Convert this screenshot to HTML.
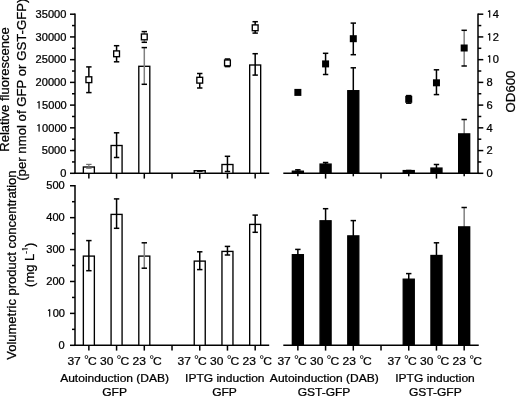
<!DOCTYPE html>
<html><head><meta charset="utf-8"><title>Figure</title>
<style>
html,body{margin:0;padding:0;background:#fff;}
body{width:516px;height:397px;overflow:hidden;}
svg{display:block;}
text{font-family:"Liberation Sans", Arial, Helvetica, sans-serif;fill:#000;stroke:#000;stroke-width:0.25px;}
</style></head><body>
<svg width="516" height="397" viewBox="0 0 516 397">
<rect x="0" y="0" width="516" height="397" fill="#fff"/>
<line x1="75.00" y1="13.45" x2="75.00" y2="173.30" stroke="#000" stroke-width="1.5"/>
<line x1="75.00" y1="185.00" x2="75.00" y2="345.30" stroke="#000" stroke-width="1.5"/>
<line x1="478.00" y1="13.45" x2="478.00" y2="174.05" stroke="#000" stroke-width="1.5"/>
<line x1="74.25" y1="173.30" x2="269.20" y2="173.30" stroke="#000" stroke-width="1.5"/>
<line x1="283.30" y1="173.30" x2="478.75" y2="173.30" stroke="#000" stroke-width="1.5"/>
<line x1="74.25" y1="345.30" x2="269.20" y2="345.30" stroke="#000" stroke-width="1.5"/>
<line x1="283.30" y1="345.30" x2="478.75" y2="345.30" stroke="#000" stroke-width="1.5"/>
<line x1="70.00" y1="173.30" x2="75.00" y2="173.30" stroke="#000" stroke-width="1.5"/>
<line x1="72.00" y1="161.94" x2="75.00" y2="161.94" stroke="#000" stroke-width="1.5"/>
<line x1="70.00" y1="150.57" x2="75.00" y2="150.57" stroke="#000" stroke-width="1.5"/>
<line x1="72.00" y1="139.21" x2="75.00" y2="139.21" stroke="#000" stroke-width="1.5"/>
<line x1="70.00" y1="127.84" x2="75.00" y2="127.84" stroke="#000" stroke-width="1.5"/>
<line x1="72.00" y1="116.48" x2="75.00" y2="116.48" stroke="#000" stroke-width="1.5"/>
<line x1="70.00" y1="105.11" x2="75.00" y2="105.11" stroke="#000" stroke-width="1.5"/>
<line x1="72.00" y1="93.75" x2="75.00" y2="93.75" stroke="#000" stroke-width="1.5"/>
<line x1="70.00" y1="82.39" x2="75.00" y2="82.39" stroke="#000" stroke-width="1.5"/>
<line x1="72.00" y1="71.02" x2="75.00" y2="71.02" stroke="#000" stroke-width="1.5"/>
<line x1="70.00" y1="59.66" x2="75.00" y2="59.66" stroke="#000" stroke-width="1.5"/>
<line x1="72.00" y1="48.29" x2="75.00" y2="48.29" stroke="#000" stroke-width="1.5"/>
<line x1="70.00" y1="36.93" x2="75.00" y2="36.93" stroke="#000" stroke-width="1.5"/>
<line x1="72.00" y1="25.56" x2="75.00" y2="25.56" stroke="#000" stroke-width="1.5"/>
<line x1="70.00" y1="14.20" x2="75.00" y2="14.20" stroke="#000" stroke-width="1.5"/>
<line x1="70.00" y1="345.30" x2="75.00" y2="345.30" stroke="#000" stroke-width="1.5"/>
<line x1="72.00" y1="329.35" x2="75.00" y2="329.35" stroke="#000" stroke-width="1.5"/>
<line x1="70.00" y1="313.39" x2="75.00" y2="313.39" stroke="#000" stroke-width="1.5"/>
<line x1="72.00" y1="297.44" x2="75.00" y2="297.44" stroke="#000" stroke-width="1.5"/>
<line x1="70.00" y1="281.48" x2="75.00" y2="281.48" stroke="#000" stroke-width="1.5"/>
<line x1="72.00" y1="265.52" x2="75.00" y2="265.52" stroke="#000" stroke-width="1.5"/>
<line x1="70.00" y1="249.57" x2="75.00" y2="249.57" stroke="#000" stroke-width="1.5"/>
<line x1="72.00" y1="233.62" x2="75.00" y2="233.62" stroke="#000" stroke-width="1.5"/>
<line x1="70.00" y1="217.66" x2="75.00" y2="217.66" stroke="#000" stroke-width="1.5"/>
<line x1="72.00" y1="201.71" x2="75.00" y2="201.71" stroke="#000" stroke-width="1.5"/>
<line x1="70.00" y1="185.75" x2="75.00" y2="185.75" stroke="#000" stroke-width="1.5"/>
<line x1="478.00" y1="173.30" x2="483.30" y2="173.30" stroke="#000" stroke-width="1.5"/>
<line x1="478.00" y1="161.94" x2="481.30" y2="161.94" stroke="#000" stroke-width="1.5"/>
<line x1="478.00" y1="150.57" x2="483.30" y2="150.57" stroke="#000" stroke-width="1.5"/>
<line x1="478.00" y1="139.21" x2="481.30" y2="139.21" stroke="#000" stroke-width="1.5"/>
<line x1="478.00" y1="127.84" x2="483.30" y2="127.84" stroke="#000" stroke-width="1.5"/>
<line x1="478.00" y1="116.48" x2="481.30" y2="116.48" stroke="#000" stroke-width="1.5"/>
<line x1="478.00" y1="105.11" x2="483.30" y2="105.11" stroke="#000" stroke-width="1.5"/>
<line x1="478.00" y1="93.75" x2="481.30" y2="93.75" stroke="#000" stroke-width="1.5"/>
<line x1="478.00" y1="82.39" x2="483.30" y2="82.39" stroke="#000" stroke-width="1.5"/>
<line x1="478.00" y1="71.02" x2="481.30" y2="71.02" stroke="#000" stroke-width="1.5"/>
<line x1="478.00" y1="59.66" x2="483.30" y2="59.66" stroke="#000" stroke-width="1.5"/>
<line x1="478.00" y1="48.29" x2="481.30" y2="48.29" stroke="#000" stroke-width="1.5"/>
<line x1="478.00" y1="36.93" x2="483.30" y2="36.93" stroke="#000" stroke-width="1.5"/>
<line x1="478.00" y1="25.56" x2="481.30" y2="25.56" stroke="#000" stroke-width="1.5"/>
<line x1="478.00" y1="14.20" x2="483.30" y2="14.20" stroke="#000" stroke-width="1.5"/>
<line x1="88.86" y1="173.30" x2="88.86" y2="178.60" stroke="#000" stroke-width="1.5"/>
<line x1="116.58" y1="173.30" x2="116.58" y2="178.60" stroke="#000" stroke-width="1.5"/>
<line x1="144.30" y1="173.30" x2="144.30" y2="178.60" stroke="#000" stroke-width="1.5"/>
<line x1="172.02" y1="173.30" x2="172.02" y2="178.60" stroke="#000" stroke-width="1.5"/>
<line x1="199.74" y1="173.30" x2="199.74" y2="178.60" stroke="#000" stroke-width="1.5"/>
<line x1="227.46" y1="173.30" x2="227.46" y2="178.60" stroke="#000" stroke-width="1.5"/>
<line x1="255.18" y1="173.30" x2="255.18" y2="178.60" stroke="#000" stroke-width="1.5"/>
<line x1="297.86" y1="173.30" x2="297.86" y2="176.30" stroke="#000" stroke-width="1.5"/>
<line x1="325.58" y1="173.30" x2="325.58" y2="178.60" stroke="#000" stroke-width="1.5"/>
<line x1="353.30" y1="173.30" x2="353.30" y2="176.30" stroke="#000" stroke-width="1.5"/>
<line x1="381.02" y1="173.30" x2="381.02" y2="178.60" stroke="#000" stroke-width="1.5"/>
<line x1="408.74" y1="173.30" x2="408.74" y2="176.30" stroke="#000" stroke-width="1.5"/>
<line x1="436.46" y1="173.30" x2="436.46" y2="178.60" stroke="#000" stroke-width="1.5"/>
<line x1="464.18" y1="173.30" x2="464.18" y2="176.30" stroke="#000" stroke-width="1.5"/>
<line x1="88.86" y1="345.30" x2="88.86" y2="350.60" stroke="#000" stroke-width="1.5"/>
<line x1="116.58" y1="345.30" x2="116.58" y2="350.60" stroke="#000" stroke-width="1.5"/>
<line x1="144.30" y1="345.30" x2="144.30" y2="350.60" stroke="#000" stroke-width="1.5"/>
<line x1="172.02" y1="345.30" x2="172.02" y2="350.60" stroke="#000" stroke-width="1.5"/>
<line x1="199.74" y1="345.30" x2="199.74" y2="350.60" stroke="#000" stroke-width="1.5"/>
<line x1="227.46" y1="345.30" x2="227.46" y2="350.60" stroke="#000" stroke-width="1.5"/>
<line x1="255.18" y1="345.30" x2="255.18" y2="350.60" stroke="#000" stroke-width="1.5"/>
<line x1="297.86" y1="345.30" x2="297.86" y2="350.60" stroke="#000" stroke-width="1.5"/>
<line x1="325.58" y1="345.30" x2="325.58" y2="350.60" stroke="#000" stroke-width="1.5"/>
<line x1="353.30" y1="345.30" x2="353.30" y2="350.60" stroke="#000" stroke-width="1.5"/>
<line x1="381.02" y1="345.30" x2="381.02" y2="350.60" stroke="#000" stroke-width="1.5"/>
<line x1="408.74" y1="345.30" x2="408.74" y2="350.60" stroke="#000" stroke-width="1.5"/>
<line x1="436.46" y1="345.30" x2="436.46" y2="350.60" stroke="#000" stroke-width="1.5"/>
<line x1="464.18" y1="345.30" x2="464.18" y2="350.60" stroke="#000" stroke-width="1.5"/>
<text transform="translate(66.40,177.00) scale(1.065,1)" font-size="10.4" text-anchor="end" >0</text>
<text transform="translate(66.40,154.27) scale(1.065,1)" font-size="10.4" text-anchor="end" >5000</text>
<text transform="translate(66.40,131.54) scale(1.065,1)" font-size="10.4" text-anchor="end" ><tspan font-family="IPAGothic" font-size="10.23" dx="0.30" dy="0.00">1</tspan><tspan dx="0.36" dy="-0.00">0</tspan>000</text>
<text transform="translate(66.40,108.81) scale(1.065,1)" font-size="10.4" text-anchor="end" ><tspan font-family="IPAGothic" font-size="10.23" dx="0.30" dy="0.00">1</tspan><tspan dx="0.36" dy="-0.00">5</tspan>000</text>
<text transform="translate(66.40,86.09) scale(1.065,1)" font-size="10.4" text-anchor="end" >20000</text>
<text transform="translate(66.40,63.36) scale(1.065,1)" font-size="10.4" text-anchor="end" >25000</text>
<text transform="translate(66.40,40.63) scale(1.065,1)" font-size="10.4" text-anchor="end" >30000</text>
<text transform="translate(66.40,17.90) scale(1.065,1)" font-size="10.4" text-anchor="end" >35000</text>
<text transform="translate(64.70,349.00) scale(1.065,1)" font-size="10.4" text-anchor="end" >0</text>
<text transform="translate(64.70,317.09) scale(1.065,1)" font-size="10.4" text-anchor="end" ><tspan font-family="IPAGothic" font-size="10.23" dx="0.30" dy="0.00">1</tspan><tspan dx="0.36" dy="-0.00">0</tspan>0</text>
<text transform="translate(64.70,285.18) scale(1.065,1)" font-size="10.4" text-anchor="end" >200</text>
<text transform="translate(64.70,253.27) scale(1.065,1)" font-size="10.4" text-anchor="end" >300</text>
<text transform="translate(64.70,221.36) scale(1.065,1)" font-size="10.4" text-anchor="end" >400</text>
<text transform="translate(64.70,189.45) scale(1.065,1)" font-size="10.4" text-anchor="end" >500</text>
<text transform="translate(486.50,177.00) scale(1.065,1)" font-size="10.4" text-anchor="start" >0</text>
<text transform="translate(486.50,154.27) scale(1.065,1)" font-size="10.4" text-anchor="start" >2</text>
<text transform="translate(486.50,131.54) scale(1.065,1)" font-size="10.4" text-anchor="start" >4</text>
<text transform="translate(486.50,108.81) scale(1.065,1)" font-size="10.4" text-anchor="start" >6</text>
<text transform="translate(486.50,86.09) scale(1.065,1)" font-size="10.4" text-anchor="start" >8</text>
<text transform="translate(486.50,63.36) scale(1.065,1)" font-size="10.4" text-anchor="start" ><tspan font-family="IPAGothic" font-size="10.23" dx="0.30" dy="0.00">1</tspan><tspan dx="0.36" dy="-0.00">0</tspan></text>
<text transform="translate(486.50,40.63) scale(1.065,1)" font-size="10.4" text-anchor="start" ><tspan font-family="IPAGothic" font-size="10.23" dx="0.30" dy="0.00">1</tspan><tspan dx="0.36" dy="-0.00">2</tspan></text>
<text transform="translate(486.50,17.90) scale(1.065,1)" font-size="10.4" text-anchor="start" ><tspan font-family="IPAGothic" font-size="10.23" dx="0.30" dy="0.00">1</tspan><tspan dx="0.36" dy="-0.00">4</tspan></text>
<rect x="83.36" y="167.00" width="11.00" height="6.30" fill="#fff" stroke="#000" stroke-width="1.35"/>
<line x1="88.86" y1="164.40" x2="88.86" y2="168.20" stroke="#707070" stroke-width="1.2"/>
<line x1="86.16" y1="164.40" x2="91.56" y2="164.40" stroke="#707070" stroke-width="1.2"/>
<line x1="86.16" y1="168.20" x2="91.56" y2="168.20" stroke="#707070" stroke-width="1.2"/>
<rect x="111.08" y="145.50" width="11.00" height="27.80" fill="#fff" stroke="#000" stroke-width="1.35"/>
<line x1="116.58" y1="132.80" x2="116.58" y2="157.50" stroke="#000" stroke-width="1.5"/>
<line x1="113.88" y1="132.80" x2="119.28" y2="132.80" stroke="#000" stroke-width="1.5"/>
<line x1="113.88" y1="157.50" x2="119.28" y2="157.50" stroke="#000" stroke-width="1.5"/>
<rect x="138.80" y="66.30" width="11.00" height="107.00" fill="#fff" stroke="#000" stroke-width="1.35"/>
<line x1="144.30" y1="47.60" x2="144.30" y2="84.30" stroke="#808080" stroke-width="1.5"/>
<line x1="141.60" y1="47.60" x2="147.00" y2="47.60" stroke="#000" stroke-width="1.5"/>
<line x1="141.60" y1="84.30" x2="147.00" y2="84.30" stroke="#000" stroke-width="1.5"/>
<rect x="194.24" y="170.70" width="11.00" height="2.60" fill="#fff" stroke="#000" stroke-width="1.35"/>
<line x1="199.74" y1="170.95" x2="199.74" y2="170.95" stroke="#000" stroke-width="1.5"/>
<line x1="197.04" y1="170.95" x2="202.44" y2="170.95" stroke="#000" stroke-width="1.5"/>
<line x1="197.04" y1="170.95" x2="202.44" y2="170.95" stroke="#000" stroke-width="1.5"/>
<rect x="221.96" y="164.50" width="11.00" height="8.80" fill="#fff" stroke="#000" stroke-width="1.35"/>
<line x1="227.46" y1="156.30" x2="227.46" y2="171.50" stroke="#000" stroke-width="1.5"/>
<line x1="224.76" y1="156.30" x2="230.16" y2="156.30" stroke="#000" stroke-width="1.5"/>
<line x1="224.76" y1="171.50" x2="230.16" y2="171.50" stroke="#000" stroke-width="1.5"/>
<rect x="249.68" y="65.00" width="11.00" height="108.30" fill="#fff" stroke="#000" stroke-width="1.35"/>
<line x1="255.18" y1="53.70" x2="255.18" y2="75.10" stroke="#000" stroke-width="1.5"/>
<line x1="252.48" y1="53.70" x2="257.88" y2="53.70" stroke="#000" stroke-width="1.5"/>
<line x1="252.48" y1="75.10" x2="257.88" y2="75.10" stroke="#000" stroke-width="1.5"/>
<line x1="297.86" y1="169.80" x2="297.86" y2="171.40" stroke="#000" stroke-width="1.5"/>
<line x1="295.16" y1="169.80" x2="300.56" y2="169.80" stroke="#000" stroke-width="1.5"/>
<line x1="295.16" y1="171.40" x2="300.56" y2="171.40" stroke="#000" stroke-width="1.5"/>
<rect x="292.36" y="171.20" width="11.00" height="2.10" fill="#000" stroke="#000" stroke-width="1.35"/>
<line x1="325.58" y1="162.50" x2="325.58" y2="164.50" stroke="#000" stroke-width="1.5"/>
<line x1="322.88" y1="162.50" x2="328.28" y2="162.50" stroke="#000" stroke-width="1.5"/>
<line x1="322.88" y1="164.50" x2="328.28" y2="164.50" stroke="#000" stroke-width="1.5"/>
<rect x="320.08" y="164.10" width="11.00" height="9.20" fill="#000" stroke="#000" stroke-width="1.35"/>
<line x1="353.30" y1="67.80" x2="353.30" y2="112.40" stroke="#000" stroke-width="1.5"/>
<line x1="350.60" y1="67.80" x2="356.00" y2="67.80" stroke="#000" stroke-width="1.5"/>
<line x1="350.60" y1="112.40" x2="356.00" y2="112.40" stroke="#000" stroke-width="1.5"/>
<rect x="347.80" y="90.70" width="11.00" height="82.60" fill="#000" stroke="#000" stroke-width="1.35"/>
<line x1="408.74" y1="170.60" x2="408.74" y2="170.60" stroke="#000" stroke-width="1.5"/>
<line x1="406.04" y1="170.60" x2="411.44" y2="170.60" stroke="#000" stroke-width="1.5"/>
<line x1="406.04" y1="170.60" x2="411.44" y2="170.60" stroke="#000" stroke-width="1.5"/>
<rect x="403.24" y="170.60" width="11.00" height="2.70" fill="#000" stroke="#000" stroke-width="1.35"/>
<line x1="436.46" y1="164.50" x2="436.46" y2="170.50" stroke="#000" stroke-width="1.5"/>
<line x1="433.76" y1="164.50" x2="439.16" y2="164.50" stroke="#000" stroke-width="1.5"/>
<line x1="433.76" y1="170.50" x2="439.16" y2="170.50" stroke="#000" stroke-width="1.5"/>
<rect x="430.96" y="168.10" width="11.00" height="5.20" fill="#000" stroke="#000" stroke-width="1.35"/>
<line x1="464.18" y1="119.50" x2="464.18" y2="147.10" stroke="#808080" stroke-width="1.5"/>
<line x1="461.48" y1="119.50" x2="466.88" y2="119.50" stroke="#000" stroke-width="1.5"/>
<line x1="461.48" y1="147.10" x2="466.88" y2="147.10" stroke="#000" stroke-width="1.5"/>
<rect x="458.68" y="133.90" width="11.00" height="39.40" fill="#000" stroke="#000" stroke-width="1.35"/>
<rect x="83.36" y="256.10" width="11.00" height="89.20" fill="#fff" stroke="#000" stroke-width="1.35"/>
<line x1="88.86" y1="240.60" x2="88.86" y2="270.70" stroke="#000" stroke-width="1.5"/>
<line x1="86.16" y1="240.60" x2="91.56" y2="240.60" stroke="#000" stroke-width="1.5"/>
<line x1="86.16" y1="270.70" x2="91.56" y2="270.70" stroke="#000" stroke-width="1.5"/>
<rect x="111.08" y="214.40" width="11.00" height="130.90" fill="#fff" stroke="#000" stroke-width="1.35"/>
<line x1="116.58" y1="198.90" x2="116.58" y2="228.30" stroke="#000" stroke-width="1.5"/>
<line x1="113.88" y1="198.90" x2="119.28" y2="198.90" stroke="#000" stroke-width="1.5"/>
<line x1="113.88" y1="228.30" x2="119.28" y2="228.30" stroke="#000" stroke-width="1.5"/>
<rect x="138.80" y="256.10" width="11.00" height="89.20" fill="#fff" stroke="#000" stroke-width="1.35"/>
<line x1="144.30" y1="242.80" x2="144.30" y2="268.20" stroke="#808080" stroke-width="1.5"/>
<line x1="141.60" y1="242.80" x2="147.00" y2="242.80" stroke="#000" stroke-width="1.5"/>
<line x1="141.60" y1="268.20" x2="147.00" y2="268.20" stroke="#000" stroke-width="1.5"/>
<rect x="194.24" y="261.10" width="11.00" height="84.20" fill="#fff" stroke="#000" stroke-width="1.35"/>
<line x1="199.74" y1="251.80" x2="199.74" y2="269.60" stroke="#000" stroke-width="1.5"/>
<line x1="197.04" y1="251.80" x2="202.44" y2="251.80" stroke="#000" stroke-width="1.5"/>
<line x1="197.04" y1="269.60" x2="202.44" y2="269.60" stroke="#000" stroke-width="1.5"/>
<rect x="221.96" y="251.40" width="11.00" height="93.90" fill="#fff" stroke="#000" stroke-width="1.35"/>
<line x1="227.46" y1="246.40" x2="227.46" y2="255.00" stroke="#000" stroke-width="1.5"/>
<line x1="224.76" y1="246.40" x2="230.16" y2="246.40" stroke="#000" stroke-width="1.5"/>
<line x1="224.76" y1="255.00" x2="230.16" y2="255.00" stroke="#000" stroke-width="1.5"/>
<rect x="249.68" y="224.40" width="11.00" height="120.90" fill="#fff" stroke="#000" stroke-width="1.35"/>
<line x1="255.18" y1="215.10" x2="255.18" y2="232.30" stroke="#000" stroke-width="1.5"/>
<line x1="252.48" y1="215.10" x2="257.88" y2="215.10" stroke="#000" stroke-width="1.5"/>
<line x1="252.48" y1="232.30" x2="257.88" y2="232.30" stroke="#000" stroke-width="1.5"/>
<line x1="297.86" y1="249.40" x2="297.86" y2="258.80" stroke="#000" stroke-width="1.5"/>
<line x1="295.16" y1="249.40" x2="300.56" y2="249.40" stroke="#000" stroke-width="1.5"/>
<line x1="295.16" y1="258.80" x2="300.56" y2="258.80" stroke="#000" stroke-width="1.5"/>
<rect x="292.36" y="254.70" width="11.00" height="90.60" fill="#000" stroke="#000" stroke-width="1.35"/>
<line x1="325.58" y1="208.70" x2="325.58" y2="231.70" stroke="#000" stroke-width="1.5"/>
<line x1="322.88" y1="208.70" x2="328.28" y2="208.70" stroke="#000" stroke-width="1.5"/>
<line x1="322.88" y1="231.70" x2="328.28" y2="231.70" stroke="#000" stroke-width="1.5"/>
<rect x="320.08" y="220.80" width="11.00" height="124.50" fill="#000" stroke="#000" stroke-width="1.35"/>
<line x1="353.30" y1="220.60" x2="353.30" y2="250.00" stroke="#000" stroke-width="1.5"/>
<line x1="350.60" y1="220.60" x2="356.00" y2="220.60" stroke="#000" stroke-width="1.5"/>
<line x1="350.60" y1="250.00" x2="356.00" y2="250.00" stroke="#000" stroke-width="1.5"/>
<rect x="347.80" y="235.90" width="11.00" height="109.40" fill="#000" stroke="#000" stroke-width="1.35"/>
<line x1="408.74" y1="273.60" x2="408.74" y2="283.60" stroke="#000" stroke-width="1.5"/>
<line x1="406.04" y1="273.60" x2="411.44" y2="273.60" stroke="#000" stroke-width="1.5"/>
<line x1="406.04" y1="283.60" x2="411.44" y2="283.60" stroke="#000" stroke-width="1.5"/>
<rect x="403.24" y="279.20" width="11.00" height="66.10" fill="#000" stroke="#000" stroke-width="1.35"/>
<line x1="436.46" y1="242.80" x2="436.46" y2="267.00" stroke="#000" stroke-width="1.5"/>
<line x1="433.76" y1="242.80" x2="439.16" y2="242.80" stroke="#000" stroke-width="1.5"/>
<line x1="433.76" y1="267.00" x2="439.16" y2="267.00" stroke="#000" stroke-width="1.5"/>
<rect x="430.96" y="255.50" width="11.00" height="89.80" fill="#000" stroke="#000" stroke-width="1.35"/>
<line x1="464.18" y1="207.50" x2="464.18" y2="245.10" stroke="#808080" stroke-width="1.5"/>
<line x1="461.48" y1="207.50" x2="466.88" y2="207.50" stroke="#000" stroke-width="1.5"/>
<line x1="461.48" y1="245.10" x2="466.88" y2="245.10" stroke="#000" stroke-width="1.5"/>
<rect x="458.68" y="226.90" width="11.00" height="118.40" fill="#000" stroke="#000" stroke-width="1.35"/>
<line x1="88.86" y1="66.90" x2="88.86" y2="92.60" stroke="#000" stroke-width="1.5"/>
<line x1="86.16" y1="66.90" x2="91.56" y2="66.90" stroke="#000" stroke-width="1.5"/>
<line x1="86.16" y1="92.60" x2="91.56" y2="92.60" stroke="#000" stroke-width="1.5"/>
<rect x="85.96" y="76.80" width="5.8" height="5.8" fill="#fff" stroke="#000" stroke-width="1.35"/>
<line x1="116.58" y1="45.70" x2="116.58" y2="61.80" stroke="#000" stroke-width="1.5"/>
<line x1="113.88" y1="45.70" x2="119.28" y2="45.70" stroke="#000" stroke-width="1.5"/>
<line x1="113.88" y1="61.80" x2="119.28" y2="61.80" stroke="#000" stroke-width="1.5"/>
<rect x="113.68" y="50.90" width="5.8" height="5.8" fill="#fff" stroke="#000" stroke-width="1.35"/>
<line x1="144.30" y1="31.60" x2="144.30" y2="42.30" stroke="#808080" stroke-width="1.5"/>
<line x1="141.60" y1="31.60" x2="147.00" y2="31.60" stroke="#000" stroke-width="1.5"/>
<line x1="141.60" y1="42.30" x2="147.00" y2="42.30" stroke="#000" stroke-width="1.5"/>
<rect x="141.40" y="34.00" width="5.8" height="5.8" fill="#fff" stroke="#000" stroke-width="1.35"/>
<line x1="199.74" y1="73.50" x2="199.74" y2="88.00" stroke="#000" stroke-width="1.5"/>
<line x1="197.04" y1="73.50" x2="202.44" y2="73.50" stroke="#000" stroke-width="1.5"/>
<line x1="197.04" y1="88.00" x2="202.44" y2="88.00" stroke="#000" stroke-width="1.5"/>
<rect x="196.84" y="77.30" width="5.8" height="5.8" fill="#fff" stroke="#000" stroke-width="1.35"/>
<line x1="227.46" y1="59.00" x2="227.46" y2="66.60" stroke="#000" stroke-width="1.5"/>
<line x1="224.76" y1="59.00" x2="230.16" y2="59.00" stroke="#000" stroke-width="1.5"/>
<line x1="224.76" y1="66.60" x2="230.16" y2="66.60" stroke="#000" stroke-width="1.5"/>
<rect x="224.56" y="60.00" width="5.8" height="5.8" fill="#fff" stroke="#000" stroke-width="1.35"/>
<line x1="255.18" y1="21.70" x2="255.18" y2="33.10" stroke="#000" stroke-width="1.5"/>
<line x1="252.48" y1="21.70" x2="257.88" y2="21.70" stroke="#000" stroke-width="1.5"/>
<line x1="252.48" y1="33.10" x2="257.88" y2="33.10" stroke="#000" stroke-width="1.5"/>
<rect x="252.28" y="24.90" width="5.8" height="5.8" fill="#fff" stroke="#000" stroke-width="1.35"/>
<rect x="294.36" y="88.90" width="7.0" height="7.0" fill="#000"/>
<line x1="325.58" y1="53.30" x2="325.58" y2="74.50" stroke="#000" stroke-width="1.5"/>
<line x1="322.88" y1="53.30" x2="328.28" y2="53.30" stroke="#000" stroke-width="1.5"/>
<line x1="322.88" y1="74.50" x2="328.28" y2="74.50" stroke="#000" stroke-width="1.5"/>
<rect x="322.08" y="60.40" width="7.0" height="7.0" fill="#000"/>
<line x1="353.30" y1="23.10" x2="353.30" y2="54.70" stroke="#000" stroke-width="1.5"/>
<line x1="350.60" y1="23.10" x2="356.00" y2="23.10" stroke="#000" stroke-width="1.5"/>
<line x1="350.60" y1="54.70" x2="356.00" y2="54.70" stroke="#000" stroke-width="1.5"/>
<rect x="349.80" y="35.20" width="7.0" height="7.0" fill="#000"/>
<line x1="408.74" y1="95.60" x2="408.74" y2="103.20" stroke="#000" stroke-width="1.5"/>
<line x1="406.04" y1="95.60" x2="411.44" y2="95.60" stroke="#000" stroke-width="1.5"/>
<line x1="406.04" y1="103.20" x2="411.44" y2="103.20" stroke="#000" stroke-width="1.5"/>
<rect x="405.24" y="95.80" width="7.0" height="7.0" fill="#000"/>
<line x1="436.46" y1="69.80" x2="436.46" y2="94.60" stroke="#000" stroke-width="1.5"/>
<line x1="433.76" y1="69.80" x2="439.16" y2="69.80" stroke="#000" stroke-width="1.5"/>
<line x1="433.76" y1="94.60" x2="439.16" y2="94.60" stroke="#000" stroke-width="1.5"/>
<rect x="432.96" y="79.30" width="7.0" height="7.0" fill="#000"/>
<line x1="464.18" y1="30.30" x2="464.18" y2="66.00" stroke="#808080" stroke-width="1.5"/>
<line x1="461.48" y1="30.30" x2="466.88" y2="30.30" stroke="#000" stroke-width="1.5"/>
<line x1="461.48" y1="66.00" x2="466.88" y2="66.00" stroke="#000" stroke-width="1.5"/>
<rect x="460.68" y="44.50" width="7.0" height="7.0" fill="#000"/>
<text transform="translate(114.60,365.4) scale(1.065,1)" font-size="11.3" text-anchor="middle">37 <tspan font-size="11.5" dy="-2.3" dx="-0.1" style="stroke-width:0.05px">°</tspan><tspan dy="2.3" dx="-0.9">C</tspan> 30 <tspan font-size="11.5" dy="-2.3" dx="-0.1" style="stroke-width:0.05px">°</tspan><tspan dy="2.3" dx="-0.9">C</tspan> 23 <tspan font-size="11.5" dy="-2.3" dx="-0.1" style="stroke-width:0.05px">°</tspan><tspan dy="2.3" dx="-0.9">C</tspan></text>
<text transform="translate(224.65,365.4) scale(1.065,1)" font-size="11.3" text-anchor="middle">37 <tspan font-size="11.5" dy="-2.3" dx="-0.1" style="stroke-width:0.05px">°</tspan><tspan dy="2.3" dx="-0.9">C</tspan> 30 <tspan font-size="11.5" dy="-2.3" dx="-0.1" style="stroke-width:0.05px">°</tspan><tspan dy="2.3" dx="-0.9">C</tspan> 23 <tspan font-size="11.5" dy="-2.3" dx="-0.1" style="stroke-width:0.05px">°</tspan><tspan dy="2.3" dx="-0.9">C</tspan></text>
<text transform="translate(324.60,365.4) scale(1.065,1)" font-size="11.3" text-anchor="middle">37 <tspan font-size="11.5" dy="-2.3" dx="-0.1" style="stroke-width:0.05px">°</tspan><tspan dy="2.3" dx="-0.9">C</tspan> 30 <tspan font-size="11.5" dy="-2.3" dx="-0.1" style="stroke-width:0.05px">°</tspan><tspan dy="2.3" dx="-0.9">C</tspan> 23 <tspan font-size="11.5" dy="-2.3" dx="-0.1" style="stroke-width:0.05px">°</tspan><tspan dy="2.3" dx="-0.9">C</tspan></text>
<text transform="translate(434.65,365.4) scale(1.065,1)" font-size="11.3" text-anchor="middle">37 <tspan font-size="11.5" dy="-2.3" dx="-0.1" style="stroke-width:0.05px">°</tspan><tspan dy="2.3" dx="-0.9">C</tspan> 30 <tspan font-size="11.5" dy="-2.3" dx="-0.1" style="stroke-width:0.05px">°</tspan><tspan dy="2.3" dx="-0.9">C</tspan> 23 <tspan font-size="11.5" dy="-2.3" dx="-0.1" style="stroke-width:0.05px">°</tspan><tspan dy="2.3" dx="-0.9">C</tspan></text>
<text transform="translate(114.60,381.50) scale(1.065,1)" font-size="11.3" text-anchor="middle" >Autoinduction (DAB)</text>
<text transform="translate(224.80,381.50) scale(1.065,1)" font-size="11.3" text-anchor="middle" >IPTG induction</text>
<text transform="translate(324.30,381.50) scale(1.065,1)" font-size="11.3" text-anchor="middle" >Autoinduction (DAB)</text>
<text transform="translate(435.00,381.50) scale(1.065,1)" font-size="11.3" text-anchor="middle" >IPTG induction</text>
<text transform="translate(114.60,396.00) scale(1.065,1)" font-size="11.3" text-anchor="middle" >GFP</text>
<text transform="translate(224.50,396.00) scale(1.065,1)" font-size="11.3" text-anchor="middle" >GFP</text>
<text transform="translate(324.00,396.00) scale(1.065,1)" font-size="11.3" text-anchor="middle" >GST-GFP</text>
<text transform="translate(435.30,396.00) scale(1.065,1)" font-size="11.3" text-anchor="middle" >GST-GFP</text>
<text transform="translate(9.40,89.50) rotate(-90)" font-size="13" text-anchor="middle">Relative fluorescence</text>
<text transform="translate(26.10,89.70) rotate(-90)" font-size="13.2" text-anchor="middle">(per nmol of GFP or GST-GFP)</text>
<text transform="translate(15.80,265.10) rotate(-90)" font-size="13" text-anchor="middle">Volumetric product concentration</text>
<text transform="translate(34.20,264.80) rotate(-90)" font-size="13" text-anchor="middle">(mg L<tspan font-size="8" dy="-6.3">-<tspan font-family="IPAGothic" font-size="7.9">1</tspan></tspan><tspan dy="6.3">)</tspan></text>
<text transform="translate(514.90,91.50) rotate(-90)" font-size="13.2" text-anchor="middle">OD600</text>
</svg>
</body></html>
